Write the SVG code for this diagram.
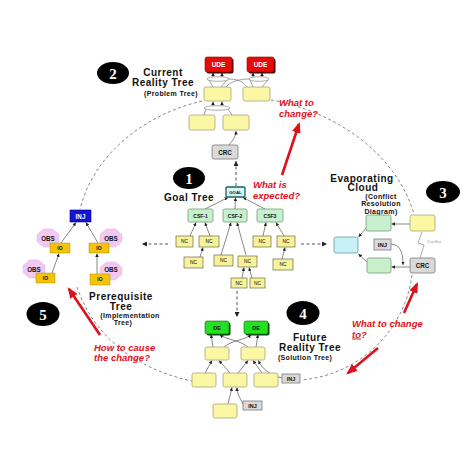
<svg xmlns="http://www.w3.org/2000/svg" width="474" height="474" viewBox="0 0 474 474">
<style>
text{font-family:"Liberation Sans",Arial,sans-serif}
.t{font-weight:bold;fill:#111;text-anchor:middle;font-size:10px;letter-spacing:0.5px}
.ts{font-weight:bold;fill:#111;text-anchor:middle;font-size:7px;letter-spacing:0.35px}
.r{font-weight:bold;font-style:italic;fill:#e0101a;font-size:9.5px}
.num{font-family:"Liberation Serif","Times New Roman",serif;font-weight:bold;fill:#fff;font-size:15px;text-anchor:middle}
.y{fill:#fbf7a4;stroke:#a8a47a;stroke-width:0.8}
.g{fill:#c8f0cc;stroke:#6f9e74;stroke-width:0.8}
.c{fill:#c6f1f6;stroke:#6a9aa4;stroke-width:0.8}
.gr{fill:#d9d9d9;stroke:#7a7a7a;stroke-width:0.8}
.nc{fill:#f8f29c;stroke:#6e6a40;stroke-width:0.7}
.io{fill:#f4c40a;stroke:#b08a00;stroke-width:0.5}
.obs{fill:#f2c8f2;stroke:#e0b0e0;stroke-width:0.5}
.bl{font-weight:bold;fill:#111;text-anchor:middle}
.ln{fill:none;stroke:#555;stroke-width:0.7;marker-end:url(#a)}
.lp{fill:none;stroke:#777;stroke-width:0.7}
.dash{fill:none;stroke:#6a6a6a;stroke-width:0.8;stroke-dasharray:3,2.5}
.dk{fill:none;stroke:#444;stroke-width:0.9;stroke-dasharray:3,2.5;marker-end:url(#ad)}
.red{fill:none;stroke:#e0101a;stroke-width:2.6;marker-end:url(#ar)}
.ov{fill:#fff;stroke:#777;stroke-width:0.6}
</style>
<defs>
<marker id="a" viewBox="0 0 6 6" refX="6" refY="3" markerWidth="3.5" markerHeight="3.5" markerUnits="userSpaceOnUse" orient="auto"><path d="M0,0L6,3L0,6z" fill="#222"/></marker>
<marker id="ad" viewBox="0 0 6 6" refX="6" refY="3" markerWidth="5" markerHeight="5" markerUnits="userSpaceOnUse" orient="auto"><path d="M0,0L6,3L0,6z" fill="#222"/></marker>
<marker id="ar" viewBox="0 0 10 8" refX="8" refY="4" markerWidth="11" markerHeight="9" markerUnits="userSpaceOnUse" orient="auto"><path d="M0,0L10,4L0,8z" fill="#e0101a"/></marker>
<polygon id="oct" points="-4.5,-9 4.5,-9 11,-3.5 11,3.5 4.5,9 -4.5,9 -11,3.5 -11,-3.5"/>
</defs>
<rect width="474" height="474" fill="#fff"/>

<!-- connectors -->
<g id="connectors">
  <!-- big dashed cycle -->
  <path class="dash" d="M202,101 C150,113 95,150 80,209"/>
  <path class="dash" d="M271,100 C330,110 395,150 414,214"/>
  <path class="dash" d="M412,275 C405,330 360,375 301,380"/>
  <path class="dash" d="M77,287 C95,340 140,370 192,381"/>
  <!-- goal tree dashed links -->
  <path class="dk" d="M236,186 V161"/>
  <path class="dk" d="M168,244 H142"/>
  <path class="dk" d="M301,244 H327"/>
  <path class="dk" d="M237,291 V317"/>
  <!-- red arrows -->
  <path class="red" d="M282,175 L299,124"/>
  <path class="red" d="M404,313 L417,284"/>
  <path class="red" d="M378,348 L348,373"/>
  <path class="red" d="M100,335 L69,289"/>
  <!-- CRT links -->
  <path class="ln" d="M213,77 L213,72.5"/>
  <path class="ln" d="M222,77 L222,72.5"/>
  <path class="ln" d="M253,77 L253,72.5"/>
  <path class="ln" d="M262,77 L262,72.5"/>
  <path class="lp" d="M209,80 L213,87 M227,80 L221,87 M250,80 L253,87 M268,80 L262,87"/>
  <path class="lp" d="M226,87 C232,80 242,79 250,79 M247,87 C242,80 235,79 228,79"/>
  <path class="ln" d="M213,106 L213,101.5"/>
  <path class="ln" d="M222,106 L222,101.5"/>
  <path class="lp" d="M206,109 L204,115 M228,109 L232,115"/>
  <path class="ln" d="M229,145 C233,140 236,136 236,131"/>
  <!-- Goal tree links -->
  <path class="ln" d="M205,209 L228,197.5"/>
  <path class="ln" d="M235,209 L235.5,197.5"/>
  <path class="ln" d="M265,209 L243,197.5"/>
  <path class="ln" d="M190,236 L196,222.5"/>
  <path class="ln" d="M210,236 L205,222.5"/>
  <path class="ln" d="M200,257 L203,247.5"/>
  <path class="ln" d="M221,255 L231,222.5"/>
  <path class="ln" d="M246,255 L237,222.5"/>
  <path class="ln" d="M242,278 L244,267.5"/>
  <path class="ln" d="M252,278 L249,267.5"/>
  <path class="ln" d="M263,236 L266,222.5"/>
  <path class="ln" d="M284,236 L276,222.5"/>
  <path class="ln" d="M282,259 L285,247.5"/>
  <!-- EC links -->
  <path class="ln" d="M410,224 L391.5,224"/>
  <path class="ln" d="M367,227 L358.5,237"/>
  <path class="ln" d="M367,262 L358.5,254"/>
  <path class="ln" d="M410,267 L391.5,267"/>
  <path class="ln" d="M391,244 C400,245 403,251 403,265"/>
  <path fill="none" stroke="#888" stroke-width="0.7" d="M422,232 L418,243 L424,245 L420,258"/>
  <!-- PRT links -->
  <path class="ln" d="M61,243 L76,222.5"/>
  <path class="ln" d="M98,243 L86,222.5"/>
  <path class="ln" d="M52,273 L59,253.5"/>
  <path class="ln" d="M97,274 L97,253.5"/>
  <!-- FRT links -->
  <path class="ln" d="M213,347 L211,334.5"/>
  <path class="ln" d="M248,347 C240,340 226,340 220,334.5"/>
  <path class="ln" d="M256,347 L258,334.5"/>
  <path class="ln" d="M224,347 C232,340 246,340 251,334.5"/>
  <path class="ln" d="M205,373 L212,360.5"/>
  <path class="ln" d="M230,373 L219,360.5"/>
  <path class="ln" d="M238,373 L248,360.5"/>
  <path class="ln" d="M262,373 L253,360.5"/>
  <path class="ln" d="M282,378 C270,375 262,369 258.5,360.5"/>
  <path class="ln" d="M228,404 L232,387.5"/>
  <path class="ln" d="M243,404 C240,398 237,394 237,387.5"/>
</g>

<!-- CRT -->
<g id="n2"><ellipse cx="113" cy="73" rx="16" ry="11"/><text class="num" x="113" y="78.5">2</text></g>
<g id="crt-title">
  <text class="t" x="163" y="75.5">Current</text>
  <text class="t" x="163" y="86">Reality Tree</text>
  <text class="ts" x="171" y="96">(Problem Tree)</text>
</g>
<g id="ude1"><rect x="206.5" y="58.5" width="27" height="15" rx="2" fill="#4a0000"/><rect x="205" y="57" width="27" height="15" rx="2" fill="#e60b0b" stroke="#900" stroke-width="0.6"/><text class="bl" x="218.5" y="67" font-size="6.5" style="fill:#fff">UDE</text></g>
<g id="ude2"><rect x="248.5" y="58.5" width="27" height="15" rx="2" fill="#4a0000"/><rect x="247" y="57" width="27" height="15" rx="2" fill="#e60b0b" stroke="#900" stroke-width="0.6"/><text class="bl" x="260.5" y="67" font-size="6.5" style="fill:#fff">UDE</text></g>
<g id="crt-and1"><ellipse class="ov" cx="218" cy="79" rx="11" ry="2.3"/></g>
<g id="crt-and2"><ellipse class="ov" cx="259" cy="79" rx="10" ry="2.3"/></g>
<g id="crt-y1"><rect class="y" x="204" y="87" width="27" height="14" rx="2"/></g>
<g id="crt-y2"><rect class="y" x="243" y="87" width="27" height="14" rx="2"/></g>
<g id="crt-and3"><ellipse class="ov" cx="217" cy="108" rx="13" ry="2.3"/></g>
<g id="crt-y3"><rect class="y" x="189" y="115" width="26" height="15" rx="2"/></g>
<g id="crt-y4"><rect class="y" x="223" y="115" width="26" height="15" rx="2"/></g>
<g id="crt-crc"><rect class="gr" x="212" y="145" width="26" height="14" rx="2"/><text class="bl" x="225" y="154.5" font-size="6.3">CRC</text></g>

<!-- Goal tree -->
<g id="n1"><ellipse cx="189" cy="178" rx="16" ry="11"/><text class="num" x="189" y="183.5">1</text></g>
<g id="gt-title"><text class="t" x="189" y="200.5">Goal Tree</text></g>
<g id="goal"><rect x="226" y="187" width="19" height="10" rx="1" fill="#d6f5f5" stroke="#1f5f63" stroke-width="1.3"/><text class="bl" x="235.5" y="193.8" font-size="4.3">GOAL</text></g>
<g id="csf1"><rect class="g" x="188" y="209" width="25" height="13" rx="1.5"/><text class="bl" x="200.5" y="217.5" font-size="5">CSF-1</text></g>
<g id="csf2"><rect class="g" x="223" y="209" width="24" height="13" rx="1.5"/><text class="bl" x="235" y="217.5" font-size="5">CSF-2</text></g>
<g id="csf3"><rect class="g" x="257" y="209" width="26" height="13" rx="1.5"/><text class="bl" x="270" y="217.5" font-size="5">CSF3</text></g>
<g id="nc1"><rect class="nc" x="176" y="236" width="17" height="11"/><text x="184.5" y="243.3" font-size="4.8" text-anchor="middle">NC</text></g>
<g id="nc2"><rect class="nc" x="199" y="236" width="20" height="11"/><text x="209" y="243.3" font-size="4.8" text-anchor="middle">NC</text></g>
<g id="nc3"><rect class="nc" x="253" y="236" width="18" height="11"/><text x="262" y="243.3" font-size="4.8" text-anchor="middle">NC</text></g>
<g id="nc4"><rect class="nc" x="277" y="236" width="18" height="11"/><text x="286" y="243.3" font-size="4.8" text-anchor="middle">NC</text></g>
<g id="nc5"><rect class="nc" x="184" y="257" width="19" height="11"/><text x="193.5" y="264.3" font-size="4.8" text-anchor="middle">NC</text></g>
<g id="nc6"><rect class="nc" x="214" y="255" width="19" height="11"/><text x="223.5" y="262.3" font-size="4.8" text-anchor="middle">NC</text></g>
<g id="nc7"><rect class="nc" x="238" y="256" width="19" height="11"/><text x="247.5" y="263.3" font-size="4.8" text-anchor="middle">NC</text></g>
<g id="nc8"><rect class="nc" x="273" y="259" width="20" height="11"/><text x="283" y="266.3" font-size="4.8" text-anchor="middle">NC</text></g>
<g id="nc9"><rect class="nc" x="231" y="278" width="16" height="10"/><text x="239" y="284.8" font-size="4.8" text-anchor="middle">NC</text></g>
<g id="nc10"><rect class="nc" x="250" y="278" width="15" height="10"/><text x="257.5" y="284.8" font-size="4.8" text-anchor="middle">NC</text></g>
<g id="red-labels">
  <text class="r" x="279" y="105.5">What to</text>
  <text class="r" x="279" y="116.5">change?</text>
  <text class="r" x="253" y="187.5">What is</text>
  <text class="r" x="253" y="198.5">expected?</text>
  <text class="r" x="352" y="326.5">What to change</text>
  <text class="r" x="352" y="337.5"><tspan text-decoration="underline">to</tspan>?</text>
  <text class="r" x="94" y="350.5">How to cause</text>
  <text class="r" x="94" y="360.5">the change?</text>
</g>

<!-- Evaporating Cloud -->
<g id="n3"><ellipse cx="443" cy="192" rx="17" ry="11"/><text class="num" x="443" y="197.5">3</text></g>
<g id="ec-title">
  <text class="t" x="362" y="181.5">Evaporating</text>
  <text class="t" x="363" y="191">Cloud</text>
  <text class="ts" x="381" y="198.5">(Conflict</text>
  <text class="ts" x="381" y="206">Resolution</text>
  <text class="ts" x="381" y="213.5">Diagram)</text>
</g>
<g id="ec-yellow"><rect class="y" x="410" y="215" width="25" height="16" rx="2"/></g>
<g id="ec-green1"><rect class="g" x="366" y="215" width="25" height="16" rx="2"/></g>
<g id="ec-cyan"><rect class="c" x="334" y="237" width="24" height="16" rx="2"/></g>
<g id="ec-inj"><rect class="gr" x="374" y="239" width="17" height="11"/><text class="bl" x="382.5" y="246.7" font-size="6">INJ</text></g>
<g id="ec-green2"><rect class="g" x="367" y="258" width="24" height="15" rx="2"/></g>
<g id="ec-crc"><rect class="gr" x="410" y="258" width="25" height="15" rx="2"/><text class="bl" x="422.5" y="268" font-size="6.3">CRC</text></g>
<g id="ec-conflict"><text x="427" y="243" font-size="4.2" fill="#999" font-style="italic">Conflict</text></g>

<!-- Prerequisite Tree -->
<g id="n5"><ellipse cx="43" cy="314" rx="16.5" ry="12"/><text class="num" x="43" y="319.5">5</text></g>
<g id="prt-title">
  <text class="t" x="121" y="299.5">Prerequisite</text>
  <text class="t" x="121" y="309.5">Tree</text>
  <text class="ts" x="130" y="317.5">(Implementation</text>
  <text class="ts" x="123" y="325">Tree)</text>
</g>
<g id="prt-inj"><rect x="70" y="210" width="21" height="12" fill="#1414d4" stroke="#000080" stroke-width="0.6"/><text class="bl" x="80.5" y="218.5" font-size="6.3" style="fill:#fff">INJ</text></g>
<g id="obs1"><use href="#oct" class="obs" x="48" y="238"/><text class="bl" x="48" y="240.5" font-size="6.3">OBS</text></g>
<g id="obs2"><use href="#oct" class="obs" x="111" y="238"/><text class="bl" x="111" y="240.5" font-size="6.3">OBS</text></g>
<g id="obs3"><use href="#oct" class="obs" x="34" y="269"/><text class="bl" x="34" y="271.5" font-size="6.3">OBS</text></g>
<g id="obs4"><use href="#oct" class="obs" x="111" y="271"/><text class="bl" x="111" y="271.5" font-size="6.3">OBS</text></g>
<g id="io1"><rect class="io" x="50" y="243" width="20" height="10"/><text class="bl" x="60" y="249.8" font-size="5">IO</text></g>
<g id="io2"><rect class="io" x="89" y="243" width="20" height="10"/><text class="bl" x="99" y="249.8" font-size="5">IO</text></g>
<g id="io3"><rect class="io" x="36" y="273" width="19" height="10"/><text class="bl" x="45.5" y="279.8" font-size="5">IO</text></g>
<g id="io4"><rect class="io" x="90" y="274" width="20" height="11"/><text class="bl" x="100" y="281.3" font-size="5">IO</text></g>

<!-- Future Reality Tree -->
<g id="n4"><ellipse cx="303" cy="313" rx="16.5" ry="12"/><text class="num" x="303" y="318.5">4</text></g>
<g id="frt-title">
  <text class="t" x="310" y="340.5">Future</text>
  <text class="t" x="310" y="350.5">Reality Tree</text>
  <text class="ts" x="305" y="359.5">(Solution Tree)</text>
</g>
<g id="de1"><rect x="206.5" y="322.5" width="24" height="13" rx="2" fill="#114411"/><rect x="205" y="321" width="24" height="13" rx="2" fill="#22e022" stroke="#116611" stroke-width="0.6"/><text class="bl" x="217" y="329.8" font-size="5.5">DE</text></g>
<g id="de2"><rect x="245.5" y="322.5" width="24" height="13" rx="2" fill="#114411"/><rect x="244" y="321" width="24" height="13" rx="2" fill="#22e022" stroke="#116611" stroke-width="0.6"/><text class="bl" x="256" y="329.8" font-size="5.5">DE</text></g>
<g id="frt-y1"><rect class="y" x="205" y="347" width="24" height="13" rx="2"/></g>
<g id="frt-y2"><rect class="y" x="241" y="347" width="24" height="13" rx="2"/></g>
<g id="frt-y3"><rect class="y" x="192" y="373" width="24" height="14" rx="2"/></g>
<g id="frt-y4"><rect class="y" x="223" y="373" width="24" height="14" rx="2"/></g>
<g id="frt-y5"><rect class="y" x="254" y="373" width="24" height="14" rx="2"/></g>
<g id="frt-inj1"><rect class="gr" x="282" y="374" width="18" height="9"/><text class="bl" x="291" y="380.6" font-size="5.5">INJ</text></g>
<g id="frt-y6"><rect class="y" x="213" y="404" width="24" height="14" rx="2"/></g>
<g id="frt-inj2"><rect class="gr" x="243" y="401" width="19" height="9"/><text class="bl" x="252.5" y="407.6" font-size="5.5">INJ</text></g>
</svg>
